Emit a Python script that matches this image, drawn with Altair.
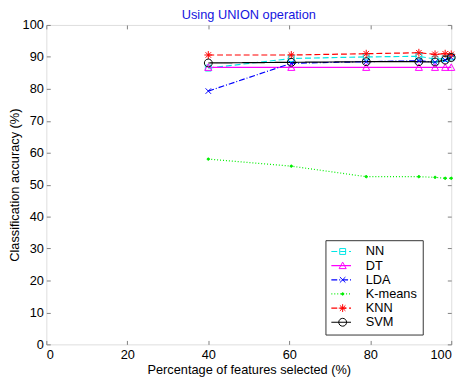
import altair as alt
import pandas as pd

# ---- data ----
pct = [40, 60.5, 79, 92, 96, 98.5, 100]
models = ["NN", "DT", "LDA", "K-means", "KNN", "SVM"]
nn = [86.5, 89.5, 90.0, 90.2, 89.3, 89.5, 90.0]
dt = [86.7, 86.7, 86.7, 86.7, 86.7, 86.7, 86.7]
lda = [79.3, 88.0, 88.5, 88.8, 88.3, 89.0, 89.8]
kmeans = [58.0, 55.8, 52.5, 52.5, 52.3, 52.0, 52.0]
knn = [90.6, 90.6, 91.0, 91.3, 90.8, 91.0, 90.8]
svm = [88.1, 88.3, 88.5, 88.5, 88.4, 89.0, 89.8]
x_ticks = [0, 20, 40, 60, 80, 100]
y_ticks = [0, 10, 20, 30, 40, 50, 60, 70, 80, 90, 100]

# ---- styles ----
colors = ["#00e5e5", "#ff00ff", "#0000ff", "#00ee00", "#ff0000", "#000000"]
dashes = [[6, 3], [1, 0], [6, 2, 1, 2], [1, 2], [6, 3], [1, 0]]
shapes = [
    "M-0.75,-0.75H0.75V0.75H-0.75Z",
    "M0,-0.9L0.9,0.75H-0.9Z",
    "M-0.7,-0.7L0.7,0.7M-0.7,0.7L0.7,-0.7",
    "M-0.3,0A0.3,0.3 0 1,0 0.3,0A0.3,0.3 0 1,0 -0.3,0Z",
    "M-1,0H1M0,-1V1M-0.7,-0.7L0.7,0.7M-0.7,0.7L0.7,-0.7",
    "M-1,0A1,1 0 1,0 1,0A1,1 0 1,0 -1,0Z",
]
fills = ["transparent", "transparent", "transparent", "#00ee00", "transparent", "transparent"]

series = [nn, dt, lda, kmeans, knn, svm]
rows = []
for m, vals in zip(models, series):
    for p, v in zip(pct, vals):
        rows.append({"model": m, "pct": p, "acc": v})
df = pd.DataFrame(rows)

W, H = 412, 325
FONT = "Liberation Sans"
frame = "#808080"

xs = alt.Scale(domain=[0, 100], nice=False, zero=False)
ys = alt.Scale(domain=[0, 100], nice=False, zero=False)

leg_common = dict(
    orient="none", legendX=284, legendY=219, title=None, padding=5,
    labelFontSize=13, labelFont=FONT, labelColor="black", clipHeight=13,
    rowPadding=0.4, labelOffset=14,
)

L1 = alt.Legend(symbolType="stroke", symbolSize=400, symbolStrokeWidth=1.2,
                strokeColor="#333333", fillColor="white", **leg_common)
L2 = alt.Legend(symbolSize=64, symbolOffset=6, symbolStrokeWidth=1,
                labelExpr="''", **leg_common)

base = alt.Chart(df)

lines = base.mark_line(strokeWidth=1.2).encode(
    x=alt.X("pct:Q", scale=xs, axis=alt.Axis(
        orient="bottom", values=x_ticks, tickSize=0, domain=False, grid=False,
        labelPadding=4, labelFontSize=13, labelColor="black", labelFont=FONT,
        title="Percentage of features selected (%)", titleFontSize=13,
        titleFontWeight="normal", titleColor="black", titleFont=FONT, titlePadding=3)),
    y=alt.Y("acc:Q", scale=ys, axis=alt.Axis(
        orient="left", values=y_ticks, tickSize=0, domain=False, grid=False,
        labelPadding=3, labelFontSize=13, labelColor="black", labelFont=FONT,
        title="Classification accuracy (%)", titleFontSize=13,
        titleFontWeight="normal", titleColor="black", titleFont=FONT, titlePadding=1)),
    color=alt.Color("model:N", scale=alt.Scale(domain=models, range=colors), legend=L1),
    strokeDash=alt.StrokeDash("model:N", scale=alt.Scale(domain=models, range=dashes), legend=L1),
)

points = base.mark_point(filled=False, size=64, strokeWidth=1, opacity=1).encode(
    x=alt.X("pct:Q", scale=xs, axis=alt.Axis(
        orient="top", offset=-H, values=x_ticks, labels=False, domain=False,
        grid=False, tickSize=4, tickColor=frame, title=None)),
    y=alt.Y("acc:Q", scale=ys, axis=alt.Axis(
        orient="right", offset=-W, values=y_ticks, labels=False, domain=False,
        grid=False, tickSize=4, tickColor=frame, title=None)),
    color=alt.Color("model:N", scale=alt.Scale(domain=models, range=colors), legend=L2),
    shape=alt.Shape("model:N", scale=alt.Scale(domain=models, range=shapes), legend=L2),
    fill=alt.Fill("model:N", scale=alt.Scale(domain=models, range=fills), legend=None),
)

ghost = base.mark_point(opacity=0).encode(
    x=alt.X("pct:Q", scale=xs, axis=alt.Axis(
        orient="bottom", offset=-H, values=x_ticks, labels=False, domain=False,
        grid=False, tickSize=4, tickColor=frame, title=None)),
    y=alt.Y("acc:Q", scale=ys, axis=alt.Axis(
        orient="left", offset=-W, values=y_ticks, labels=False, domain=False,
        grid=False, tickSize=4, tickColor=frame, title=None)),
)

chart = alt.layer(lines, points, ghost).resolve_scale(
    color="independent", shape="independent", strokeDash="independent", fill="independent"
).resolve_axis(
    x="independent", y="independent"
).resolve_legend(
    color="independent", shape="independent", strokeDash="independent"
).properties(
    width=W, height=H,
    title=alt.TitleParams("Using UNION operation", fontSize=13, font=FONT,
                          fontWeight="normal", color="#1414e0", anchor="middle",
                          offset=2, dy=5),
    autosize=alt.AutoSizeParams(type="none"),
    padding={"left": 39, "top": 14, "right": 15, "bottom": 34},
).configure_view(stroke=frame, strokeWidth=1).configure(font=FONT)

chart.save("out.html", embed_options={"renderer": "svg", "actions": False})
